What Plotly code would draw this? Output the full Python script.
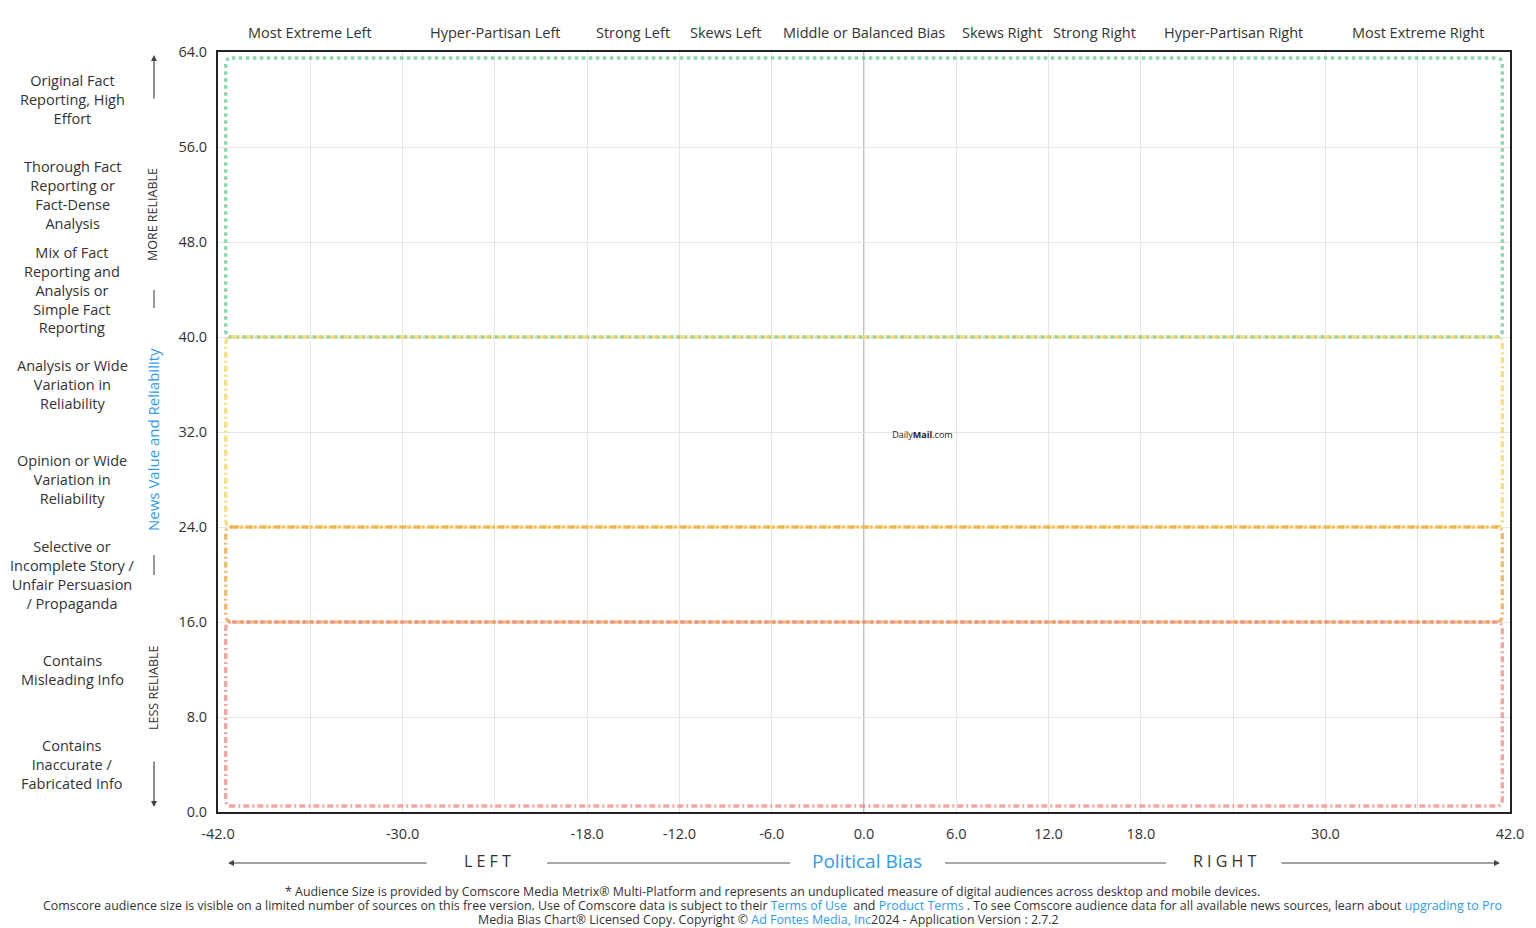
import plotly.graph_objects as go

x_ticks = [-42, -36, -30, -24, -18, -12, -6, 0, 6, 12, 18, 24, 30, 36, 42]
x_tick_text = ["-42.0", "", "-30.0", "", "-18.0", "-12.0", "-6.0", "0.0", "6.0", "12.0", "18.0", "", "30.0", "", "42.0"]
y_ticks = [0, 8, 16, 24, 32, 40, 48, 56, 64]
bias_labels = ["Most Extreme Left", "Hyper-Partisan Left", "Strong Left", "Skews Left", "Middle or Balanced Bias",
               "Skews Right", "Strong Right", "Hyper-Partisan Right", "Most Extreme Right"]
bias_pos = [-36, -24, -15, -9, 0, 9, 15, 24, 36]
rel_labels = ["Original Fact<br>Reporting, High<br>Effort", "Thorough Fact<br>Reporting or<br>Fact-Dense<br>Analysis",
              "Mix of Fact<br>Reporting and<br>Analysis or<br>Simple Fact<br>Reporting",
              "Analysis or Wide<br>Variation in<br>Reliability", "Opinion or Wide<br>Variation in<br>Reliability",
              "Selective or<br>Incomplete Story /<br>Unfair Persuasion<br>/ Propaganda",
              "Contains<br>Misleading Info", "Contains<br>Inaccurate /<br>Fabricated Info"]
rel_pos = [60, 52, 44, 36, 28, 20, 12, 4]
band_bottom = [40, 24, 16, 0]
band_top = [64, 40, 24, 16]
band_colors = ["rgba(110,205,150,0.8)", "rgba(248,215,100,0.8)", "rgba(232,165,60,0.75)", "rgba(236,130,120,0.7)"]
band_dash = ["dot", "6px,3px,2px,3px", "6px,3px,2px,3px", "6px,3px,2px,3px"]
source_name = ["Daily<b>Mail</b>.com"]
source_x = [3.8]
source_y = [31.7]

FONT = "Open Sans"
fig = go.Figure()
fig.add_trace(go.Scatter(x=[-42, 42], y=[0, 64], mode="markers", marker=dict(opacity=0), hoverinfo="skip", showlegend=False))

XL, XR = -41.5, 41.5
for b, t, c, d in zip(band_bottom, band_top, band_colors, band_dash):
    yb = b + 0.5 if b == 0 else b
    yt = t - 0.5 if t == 64 else t
    rx, ry = 0.4, 0.6
    path = (f"M {XL+rx},{yt} L {XR-rx},{yt} Q {XR},{yt} {XR},{yt-ry} L {XR},{yb+ry} Q {XR},{yb} {XR-rx},{yb} "
            f"L {XL+rx},{yb} Q {XL},{yb} {XL},{yb+ry} L {XL},{yt-ry} Q {XL},{yt} {XL+rx},{yt} Z")
    fig.add_shape(type="path", path=path, xref="x", yref="y", line=dict(color=c, width=3.5, dash=d))

fig.add_trace(go.Scatter(x=source_x, y=source_y, mode="text", text=source_name,
                         textfont=dict(size=9, color="#222"), showlegend=False, hoverinfo="skip"))

ann = []
for lab, p in zip(bias_labels, bias_pos):
    ann.append(dict(x=p, y=1.0, xref="x", yref="paper", yshift=20, yanchor="middle", text=lab, showarrow=False,
                    font=dict(size=14.5, color="#333")))

def py(v):
    return (812 - v) / 760
def px(v):
    return (v - 218) / 1292

for lab, p in zip(rel_labels, rel_pos):
    ann.append(dict(x=px(72), y=p, xref="paper", yref="y", text=lab, showarrow=False, xanchor="center", yanchor="middle",
                    font=dict(size=14.5, color="#333"), align="center"))

def txt(x, y, text, size, color="#333", angle=0):
    return dict(x=px(x), y=py(y), xref="paper", yref="paper", text=text, textangle=angle, showarrow=False,
                xanchor="center", yanchor="middle", font=dict(size=size, color=color))

ann += [
    txt(153, 440, "News Value and Reliability", 15, "#2e9bf0", -90),
    txt(153, 215, "MORE RELIABLE", 12.5, angle=-90),
    txt(153, 688, "LESS RELIABLE", 12.5, angle=-90),
    txt(487, 861, "L E F T", 16),
    txt(1224, 861, "R I G H T", 16),
    txt(867, 861, "Political Bias", 19, "#2e9bf0"),
    txt(772, 891, "* Audience Size is provided by Comscore Media Metrix® Multi-Platform and represents an unduplicated measure of digital audiences across desktop and mobile devices.", 12.4),
    txt(772, 905, "Comscore audience size is visible on a limited number of sources on this free version. Use of Comscore data is subject to their <span style='color:#2e9bf0'>Terms of Use</span>  and <span style='color:#2e9bf0'>Product Terms</span> . To see Comscore audience data for all available news sources, learn about <span style='color:#2e9bf0'>upgrading to Pro</span>", 12.4),
    txt(768, 919, "Media Bias Chart® Licensed Copy. Copyright © <span style='color:#2e9bf0'>Ad Fontes Media, Inc</span>2024 - Application Version : 2.7.2", 12.4),
]
for (x0, y0, x1, y1) in [(154, 100, 154, 55), (154, 760, 154, 807), (428, 863, 228, 863), (1280, 863, 1500, 863)]:
    ann.append(dict(x=px(x1), y=py(y1), ax=x0 - x1, ay=y0 - y1, xref="paper", yref="paper", axref="pixel", ayref="pixel",
                    text="", showarrow=True, arrowhead=2, arrowsize=1, arrowwidth=1.2, arrowcolor="#444"))
for (x0, y0, x1, y1) in [(154, 290, 154, 308), (154, 555, 154, 575), (547, 863, 790, 863), (945, 863, 1166, 863)]:
    fig.add_shape(type="line", xref="paper", yref="paper", x0=px(x0), y0=py(y0), x1=px(x1), y1=py(y1),
                  line=dict(color="#555", width=1.2))

fig.add_shape(type="line", xref="x", yref="paper", x0=0, x1=0, y0=0, y1=1, line=dict(color="#999", width=1.2), layer="below")

fig.update_layout(
    width=1536, height=928, margin=dict(l=210, r=34, t=44, b=124),
    paper_bgcolor="white", plot_bgcolor="white", font=dict(family=FONT, color="#333"),
    annotations=ann, showlegend=False,
    xaxis=dict(range=[-42, 42], tickvals=x_ticks, ticktext=x_tick_text, showgrid=True, gridcolor="#e6e6e6",
               zeroline=False, showline=True, linecolor="#222", linewidth=2, mirror=True, tickfont=dict(size=14.5, color="#333"),
               ticks="", ticklabelstandoff=8),
    yaxis=dict(range=[0, 64], tickvals=y_ticks, ticktext=[f"{v:.1f}" for v in y_ticks], showgrid=True, gridcolor="#e6e6e6",
               zeroline=False, showline=True, linecolor="#222", linewidth=2, mirror=True, tickfont=dict(size=14.5, color="#333"),
               ticks="", ticklabelstandoff=6),
)
fig.write_html("out.html")
